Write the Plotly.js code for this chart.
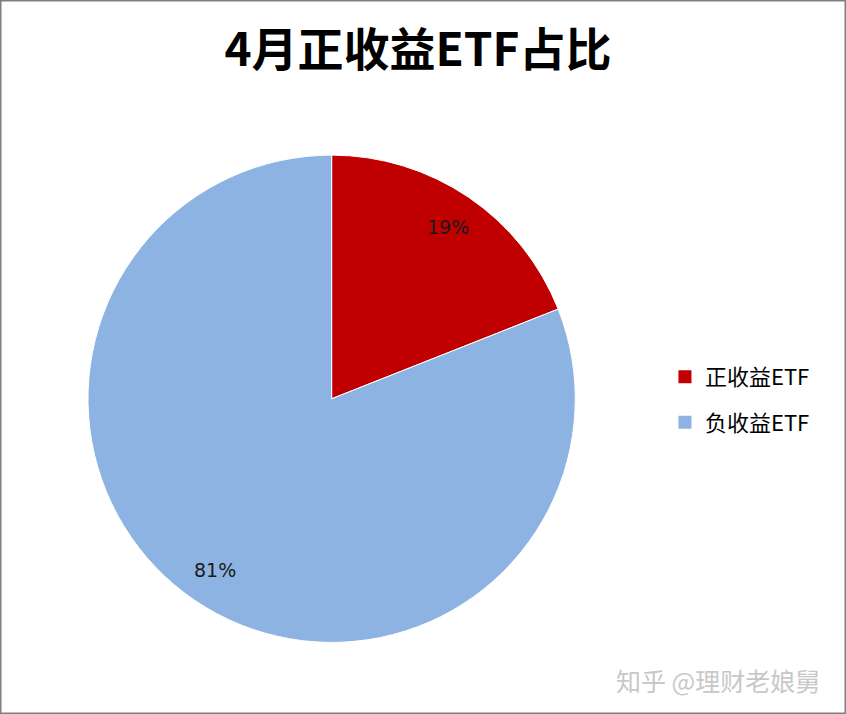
<!DOCTYPE html>
<html>
<head>
<meta charset="utf-8">
<script src="https://cdn.plot.ly/plotly-3.0.1.min.js"></script>
<style>
  html, body { margin: 0; padding: 0; background: #fff; }
  #chart { width: 846px; height: 714px; }
</style>
</head>
<body>
<div id="chart"></div>
<script>
const labels = ['正收益ETF', '负收益ETF'];
const shares = [19, 81];
const colors = ['#C00000', '#8DB3E2'];

const W = 846, H = 714;
const cjk = '"Noto Sans CJK SC", "Microsoft YaHei", sans-serif';
const pieX = [0.104, 0.680], pieY = [0.100, 0.783];

// percent labels sit at ~84% of the radius, on the middle angle of each slice
const total = shares.reduce((a, b) => a + b, 0);
const cx = (pieX[0] + pieX[1]) / 2, cy = (pieY[0] + pieY[1]) / 2;
const R = (pieX[1] - pieX[0]) * W / 2;
let cum = 0;
const pctNotes = shares.map((v) => {
    const mid = (cum + v / 2) / total * 2 * Math.PI;
    cum += v;
    return {
        text: Math.round(v / total * 100) + '%',
        xref: 'paper', yref: 'paper',
        x: cx + 0.85 * R * Math.sin(mid) / W,
        y: cy + 0.85 * R * Math.cos(mid) / H,
        xanchor: 'center', yanchor: 'middle',
        showarrow: false,
        font: { family: 'DejaVu Sans, Verdana, sans-serif', size: 19, color: '#1a1a1a' }
    };
});

const data = [{
    type: 'pie',
    labels: labels,
    values: shares,
    sort: false,
    direction: 'clockwise',
    rotation: 0,
    marker: { colors: colors, line: { color: '#ffffff', width: 1 } },
    textinfo: 'none',
    hoverinfo: 'label+percent',
    showlegend: false,
    domain: { x: pieX, y: pieY }
}];

// legend entries (pie legend spacing can't be widened, so use dummy traces)
labels.forEach((lab, i) => {
    data.push({
        type: 'scatter', mode: 'markers',
        x: [null], y: [null],
        name: lab, legendgroup: 'g' + i,
        marker: { symbol: 'square', size: 13, color: colors[i] },
        hoverinfo: 'skip'
    });
});

const layout = {
    width: W,
    height: H,
    margin: { l: 0, r: 0, t: 0, b: 0 },
    paper_bgcolor: '#ffffff',
    plot_bgcolor: 'rgba(0,0,0,0)',
    xaxis: { visible: false },
    yaxis: { visible: false },
    title: {
        text: '<b>4月正收益ETF占比</b>',
        font: { family: cjk, size: 46, color: '#000000' },
        x: 0.494, xanchor: 'center',
        y: 0.93, yanchor: 'middle'
    },
    showlegend: true,
    legend: {
        x: 0.786, xanchor: 'left',
        y: 0.44, yanchor: 'middle',
        font: { family: cjk, size: 22, color: '#000000' },
        itemwidth: 30,
        tracegroupgap: 14,
        traceorder: 'grouped',
        bgcolor: 'rgba(0,0,0,0)'
    },
    shapes: [{
        type: 'rect', xref: 'paper', yref: 'paper',
        x0: 0, x1: 1, y0: 0, y1: 1,
        line: { color: '#7f7f7f', width: 3 }
    }],
    annotations: pctNotes.concat([{
        text: '知乎 @理财老娘舅',
        xref: 'paper', yref: 'paper',
        x: 0.972, xanchor: 'right',
        y: 0.048, yanchor: 'middle',
        showarrow: false,
        font: { family: cjk, size: 25, color: '#c8c8c8' }
    }])
};

Plotly.newPlot('chart', data, layout, { displayModeBar: false });
</script>
</body>
</html>
